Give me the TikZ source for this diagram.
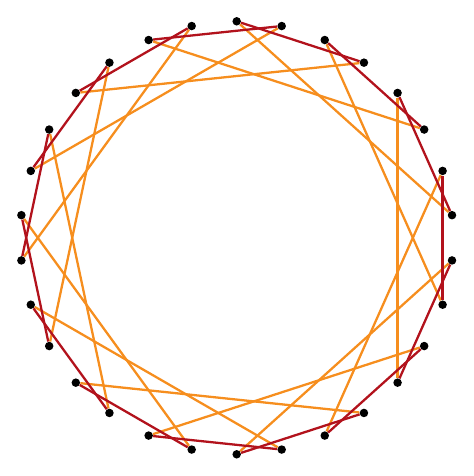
\documentclass[tikz,border=0pt]{standalone}
\usepackage{tikz}

\definecolor{edgered}{RGB}{178,18,28}
\definecolor{edgeorange}{RGB}{246,142,30}

\tikzset{
  vdot/.style={circle,fill=black,inner sep=0pt,minimum size=0.17cm},
  redline/.style={edgered,line width=1.3pt},
  orangeline/.style={edgeorange,line width=1.3pt}
}

\begin{document}
\begin{tikzpicture}
		\useasboundingbox (-4.734,-4.764) rectangle (4.746,4.756);
		% 30 vertices, 12 degrees apart, clockwise from the top
		\foreach \k in {0,...,29}
			\node [vdot] (v\k) at ({90-12*\k}:4.33) {};
		% long chords
		\foreach \m in {0,2,...,28} {
			\pgfmathtruncatemacro{\o}{mod(\m+7,30)}
			\draw [orangeline] (v\m) -- (v\o);
		}
		% short chords
		\foreach \m in {0,2,...,28} {
			\pgfmathtruncatemacro{\r}{mod(\m+3,30)}
			\draw [redline] (v\m) -- (v\r);
		}
	\end{tikzpicture}
\end{document}
